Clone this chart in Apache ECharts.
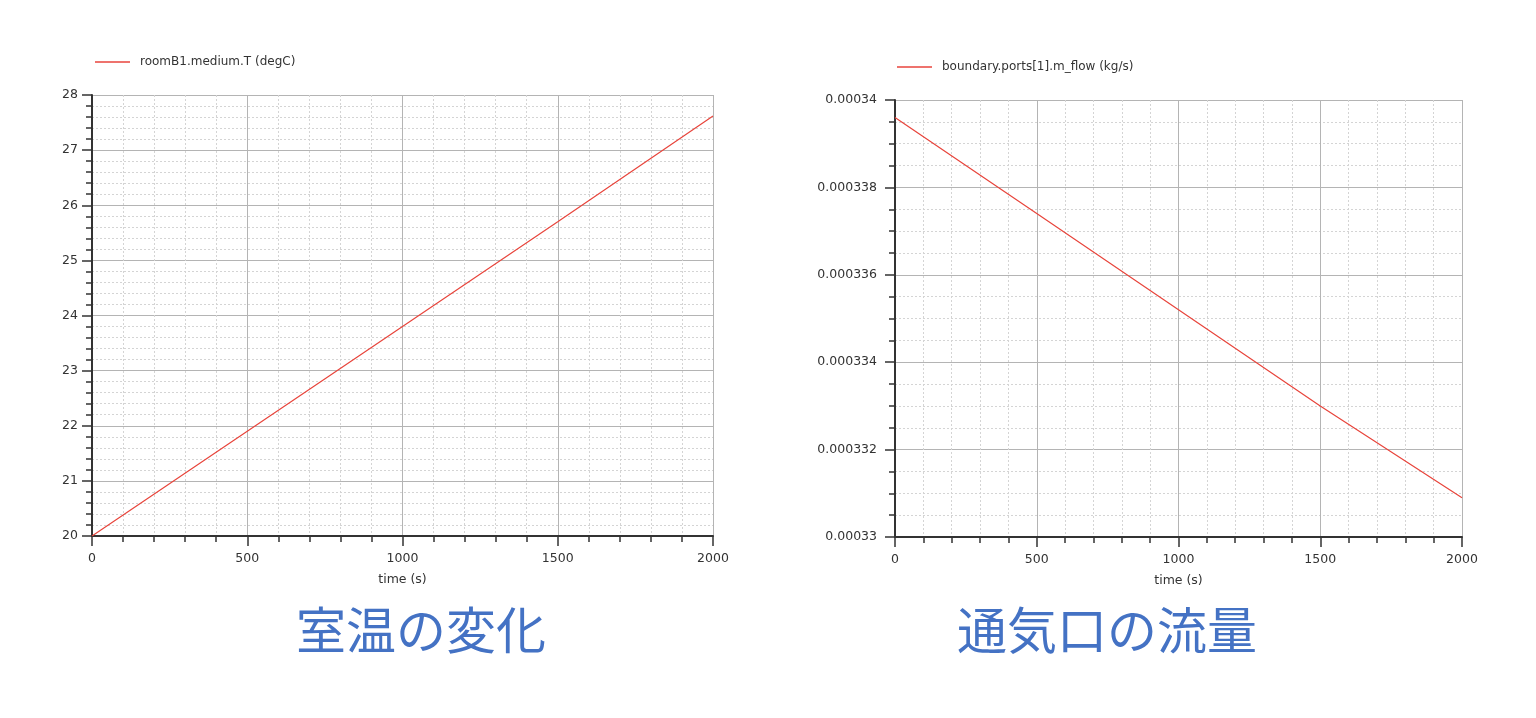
<!DOCTYPE html>
<html lang="ja">
<head>
<meta charset="UTF-8">
<title>室温の変化 / 通気口の流量</title>
<script src="https://cdn.jsdelivr.net/npm/echarts@6/dist/echarts.min.js"></script>
<style>
  html, body { margin: 0; padding: 0; background: #fff; }
  #chart { width: 1536px; height: 718px; }
</style>
</head>
<body>
<div id="chart"></div>
<script>
// 読み取った値 (time [s])
const timeSec = [0, 500, 1000, 1500, 2000];
const roomTemp = [20.0, 21.9, 23.8, 25.7, 27.62];                     // degC
const ventFlow = [0.0003396, 0.0003374, 0.0003352, 0.0003330, 0.0003309]; // kg/s

const tempName = 'roomB1.medium.T (degC)';
const flowName = 'boundary.ports[1].m_flow (kg/s)';
const titles = ['室温の変化', '通気口の流量'];

const lineColor = '#e8453c';
const font = "'DejaVu Sans', sans-serif";
const titleFont = "'Noto Sans CJK JP', sans-serif";

const chart = echarts.init(document.getElementById('chart'));

function xAxisCfg(gridIndex) {
  return {
    gridIndex: gridIndex,
    type: 'value',
    min: 0, max: 2000, interval: 500,
    name: 'time (s)',
    nameLocation: 'middle',
    nameGap: 37,
    nameTextStyle: { color: '#333', fontSize: 12.5, fontFamily: font },
    axisLine: { show: true, onZero: false, lineStyle: { color: '#333', width: 2 } },
    axisTick: { show: true, length: 10, lineStyle: { color: '#333', width: 1.5 } },
    minorTick: { show: true, splitNumber: 5, length: 6, lineStyle: { color: '#333', width: 1.5 } },
    axisLabel: { color: '#333', fontSize: 12.5, margin: 16, fontFamily: font, formatter: v => String(v) },
    splitLine: { show: true, lineStyle: { color: '#b4b4b4', width: 1 } },
    minorSplitLine: { show: true, lineStyle: { color: '#d4d4d4', width: 1, type: [2, 2] } }
  };
}

function yAxisCfg(gridIndex, min, max, interval, minorSplit, margin) {
  return {
    gridIndex: gridIndex,
    type: 'value',
    min: min, max: max, interval: interval,
    axisLine: { show: true, onZero: false, lineStyle: { color: '#333', width: 2 } },
    axisTick: { show: true, length: 10, lineStyle: { color: '#333', width: 1.5 } },
    minorTick: { show: true, splitNumber: minorSplit, length: 6, lineStyle: { color: '#333', width: 1.5 } },
    axisLabel: { color: '#333', fontSize: 12.5, margin: margin, fontFamily: font,
      formatter: v => String(Number(v.toFixed(7))) },
    splitLine: { show: true, lineStyle: { color: '#b4b4b4', width: 1 } },
    minorSplitLine: { show: true, lineStyle: { color: '#d4d4d4', width: 1, type: [2, 2] } }
  };
}

function legendCfg(name, left, top) {
  return {
    data: [{ name: name, itemStyle: { color: lineColor } }],
    left: left, top: top, padding: 0, icon: 'rect', itemWidth: 35, itemHeight: 1.5,
    textStyle: { color: '#333', fontSize: 12, fontFamily: font, padding: [0, 0, 0, 5] }
  };
}

const option = {
  backgroundColor: '#fff',
  animation: false,
  title: [
    { text: titles[0], left: 416, top: 600, textAlign: 'center',
      textStyle: { color: '#4472c4', fontSize: 50, fontWeight: 'normal', fontFamily: titleFont } },
    { text: titles[1], left: 1102, top: 600, textAlign: 'center',
      textStyle: { color: '#4472c4', fontSize: 50, fontWeight: 'normal', fontFamily: titleFont } }
  ],
  legend: [legendCfg(tempName, 95, 56), legendCfg(flowName, 897, 61)],
  grid: [
    { left: 92, top: 95, width: 621, height: 441 },
    { left: 895, top: 100, width: 567, height: 437 }
  ],
  xAxis: [xAxisCfg(0), xAxisCfg(1)],
  yAxis: [
    yAxisCfg(0, 20, 28, 1, 5, 14),
    yAxisCfg(1, 0.00033, 0.00034, 0.000002, 4, 18)
  ],
  series: [
    { name: tempName, type: 'line', xAxisIndex: 0, yAxisIndex: 0,
      data: timeSec.map((t, i) => [t, roomTemp[i]]),
      showSymbol: false, lineStyle: { color: lineColor, width: 1.2 }, itemStyle: { color: lineColor } },
    { name: flowName, type: 'line', xAxisIndex: 1, yAxisIndex: 1,
      data: timeSec.map((t, i) => [t, ventFlow[i]]),
      showSymbol: false, lineStyle: { color: lineColor, width: 1.2 }, itemStyle: { color: lineColor } }
  ]
};

chart.setOption(option);
</script>
</body>
</html>
